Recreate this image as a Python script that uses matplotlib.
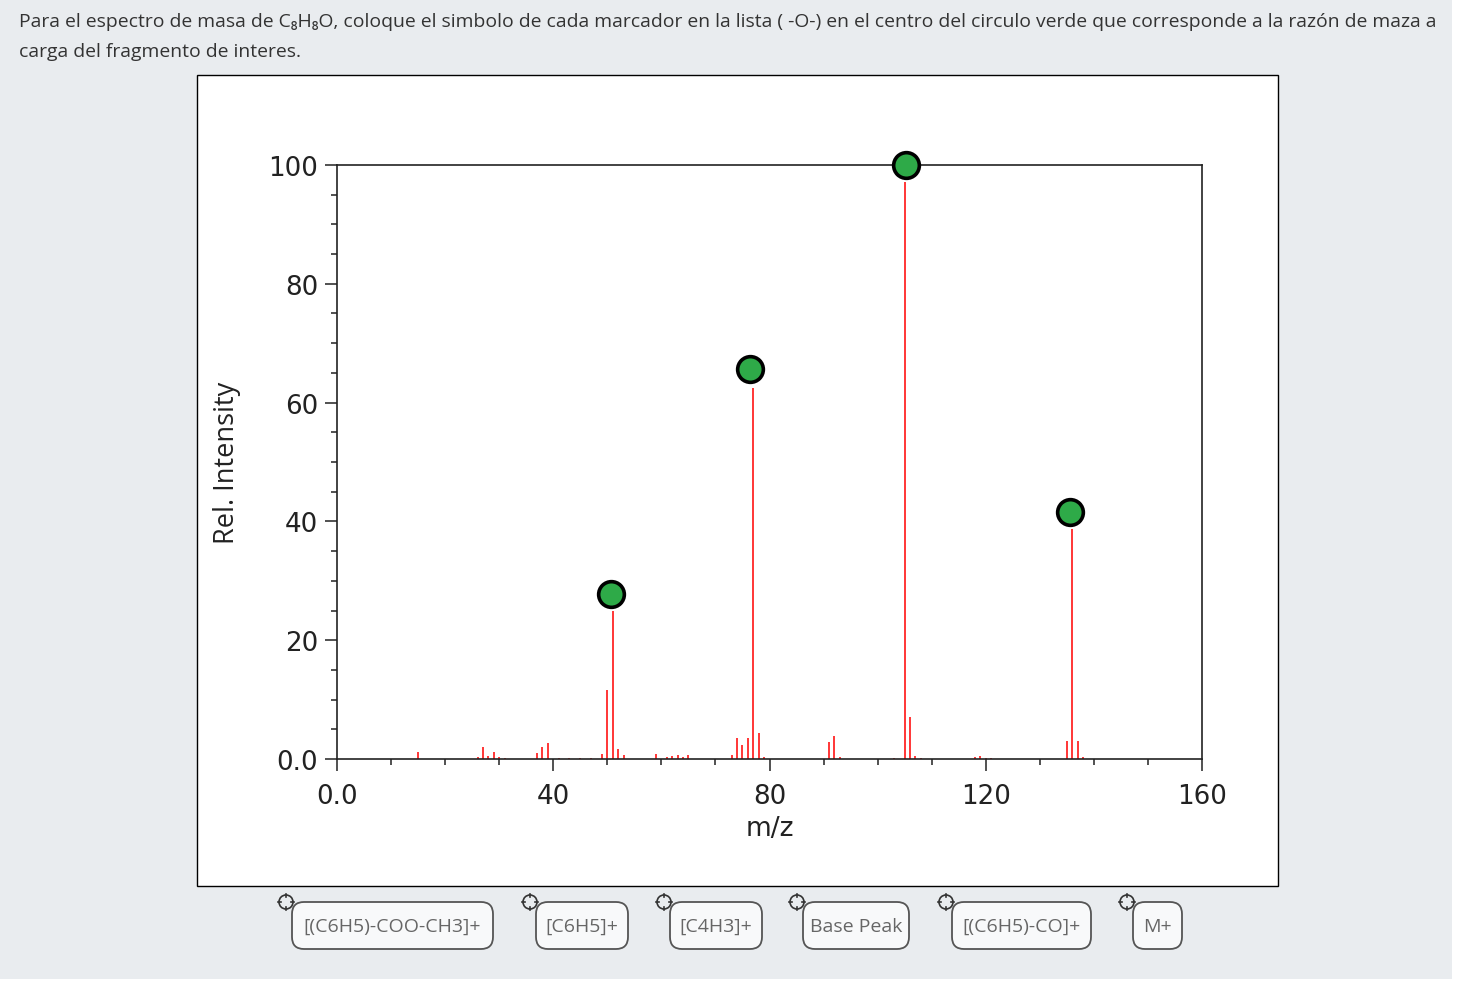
import matplotlib
matplotlib.use('Agg')
import matplotlib.pyplot as plt
from matplotlib.patches import Rectangle, FancyBboxPatch, Circle
from matplotlib.ticker import MultipleLocator, FixedLocator, FixedFormatter

# datos del espectro (m/z, intensidad relativa)
mz = [15, 26, 27, 28, 29, 30, 31, 37, 38, 39, 41, 43, 45, 47, 49, 50, 51, 52, 53,
      59, 61, 62, 63, 64, 65, 73, 74, 75, 76, 77, 78, 79, 91, 92, 93, 103,
      105, 106, 107, 108, 118, 119, 120, 121, 135, 136, 137, 138]
intensidad = [1.2, 0.3, 2.1, 0.45, 1.1, 0.3, 0.2, 1.0, 2.1, 2.7, 0.1, 0.1, 0.1, 0.1, 0.9, 11.6, 24.9, 1.6, 0.7,
              0.85, 0.3, 0.45, 0.6, 0.4, 0.6, 0.7, 3.5, 2.3, 3.6, 62.5, 4.4, 0.3, 2.8, 3.9, 0.4, 0.2,
              97.1, 7.0, 0.45, 0.1, 0.4, 0.5, 0.2, 0.1, 3.0, 38.7, 3.1, 0.3]

# circulos verdes
marc_x = [50.7, 76.4, 105.2, 135.6]
marc_y = [27.8, 65.7, 100.0, 41.6]

xticks = [0, 40, 80, 120, 160]
xlabels = ['0.0', '40', '80', '120', '160']
yticks = [0, 20, 40, 60, 80, 100]
ylabels = ['0.0', '20', '40', '60', '80', '100']

botones = ['[(C6H5)-COO-CH3]+', '[C6H5]+', '[C4H3]+', 'Base Peak', '[(C6H5)-CO]+', 'M+']
botones_x = [(292, 493), (536, 628), (670, 762), (803, 909), (952, 1091), (1133, 1182)]

pregunta = ['Para el espectro de masa de C\u2088H\u2088O, coloque el simbolo de cada marcador en la lista ( -O-) en el centro del circulo verde que corresponde a la razón de maza a',
            'carga del fragmento de interes.']

W, H = 1458, 987
fig = plt.figure(figsize=(W / 100, H / 100), dpi=100)
fig.patch.set_facecolor('white')

# fondo de la pagina (coordenadas en pixeles)
bg = fig.add_axes([0, 0, 1, 1], zorder=0)
bg.set_xlim(0, W)
bg.set_ylim(H, 0)
bg.axis('off')
bg.add_patch(Rectangle((0, 0), 1452, 980, fc='#e9ecef', ec='none'))
bg.add_patch(Rectangle((197, 76), 1081, 811, fc='white', ec='black', lw=1.0))

fam = ['Open Sans', 'DejaVu Sans']
bg.text(19, 22, pregunta[0], fontsize=13.95, color='#333333', va='center', family=fam)
bg.text(19, 52, pregunta[1], fontsize=13.95, color='#333333', va='center', family=fam)

for txt, (x0, x1) in zip(botones, botones_x):
    bg.add_patch(FancyBboxPatch((x0, 903), x1 - x0, 47, boxstyle='round,pad=0,rounding_size=12',
                                fc='#f8f9fa', ec='#555555', lw=1.3))
    bg.text((x0 + x1) / 2, 927, txt, fontsize=14.0, color='#666666', ha='center', va='center', family=fam)
    cx, cy = x0 - 6, 903
    bg.add_patch(Circle((cx, cy), 7, fc='none', ec='#333333', lw=1.2))
    for dx, dy in [(0, -7), (0, 7), (-7, 0), (7, 0)]:
        bg.plot([cx + dx * 0.7, cx + dx * 1.15], [cy + dy * 0.7, cy + dy * 1.15], color='#333333', lw=1.2)

# grafico
ax = fig.add_axes([337 / W, 1 - 760 / H, 865 / W, 594 / H], zorder=2)
ax.vlines(mz, 0, intensidad, color='#ff0000', lw=1.1, zorder=2)
ax.plot(marc_x, marc_y, 'o', ms=18.5, mfc='#2eaa48', mec='black', mew=2.6, clip_on=False, zorder=4)

ax.set_xlim(0, 160)
ax.set_ylim(0, 100)
ax.xaxis.set_major_locator(FixedLocator(xticks))
ax.xaxis.set_major_formatter(FixedFormatter(xlabels))
ax.yaxis.set_major_locator(FixedLocator(yticks))
ax.yaxis.set_major_formatter(FixedFormatter(ylabels))
ax.xaxis.set_minor_locator(MultipleLocator(10))
ax.yaxis.set_minor_locator(MultipleLocator(5))
ax.tick_params(which='major', length=8.5, width=1.2, color='#333333', labelsize=18.8, labelcolor='#222222')
ax.tick_params(which='minor', length=4, width=1.2, color='#333333')
ax.tick_params(axis='x', which='major', pad=9)
ax.tick_params(axis='y', which='major', pad=5)
for s in ax.spines.values():
    s.set_linewidth(1.2)
    s.set_color('#222222')

ax.set_xlabel('m/z', fontsize=19, color='#222222', labelpad=4)
ax.set_ylabel('Rel. Intensity', fontsize=19.5, color='#222222', family=fam, labelpad=20)

fig.savefig('out.png', dpi=100)
